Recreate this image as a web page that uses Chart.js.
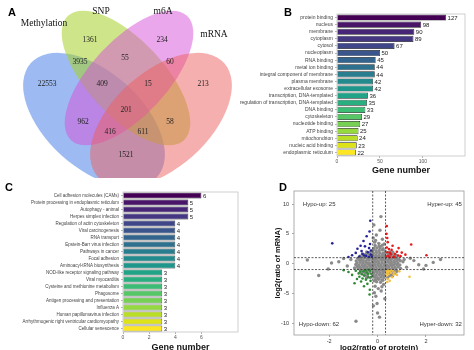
<!DOCTYPE html>
<html>
<head>
<meta charset="utf-8">
<script src="https://cdn.jsdelivr.net/npm/chart.js@4.4.1/dist/chart.umd.min.js"></script>
<style>
  body { margin: 0; width: 474px; height: 350px; overflow: hidden; background: #fff; position: relative; }
  canvas { position: absolute; }
  .tag { position: absolute; font: bold 11px "Liberation Sans", Arial, sans-serif; color: #000; line-height: 1; }
</style>
</head>
<body>
<canvas id="chartA" width="240" height="178" style="left:0;top:0"></canvas>
<canvas id="chartB" width="234" height="178" style="left:240px;top:0"></canvas>
<canvas id="chartC" width="240" height="182" style="left:0;top:175px"></canvas>
<canvas id="chartD" width="234" height="182" style="left:240px;top:175px"></canvas>
<div class="tag" style="left:8px;top:7px">A</div>
<div class="tag" style="left:284px;top:7px">B</div>
<div class="tag" style="left:5px;top:182px">C</div>
<div class="tag" style="left:279px;top:182px">D</div>
<script>
// ---- data ----
// A: venn
const vennSets = ['Methylation', 'SNP', 'm6A', 'mRNA'];
const vennCounts = [22553, 1361, 234, 213, 3935, 55, 60, 409, 15, 201, 962, 58, 416, 611, 1521];

// B: GO terms
const goTerms = ['protein binding', 'nucleus', 'membrane', 'cytoplasm', 'cytosol', 'nucleoplasm', 'RNA binding',
  'metal ion binding', 'integral component of membrane', 'plasma membrane', 'extracellular exosome',
  'transcription, DNA-templated', 'regulation of transcription, DNA-templated', 'DNA binding', 'cytoskeleton',
  'nucleotide binding', 'ATP binding', 'mitochondrion', 'nucleic acid binding', 'endoplasmic reticulum'];
const goCounts = [127, 98, 90, 89, 67, 50, 45, 44, 44, 42, 42, 36, 35, 33, 29, 27, 25, 24, 23, 22];
const goTicks = [0, 50, 100];

// C: KEGG pathways
const keggTerms = ['Cell adhesion molecules (CAMs)', 'Protein processing in endoplasmic reticulum', 'Autophagy - animal',
  'Herpes simplex infection', 'Regulation of actin cytoskeleton', 'Viral carcinogenesis', 'RNA transport',
  'Epstein-Barr virus infection', 'Pathways in cancer', 'Focal adhesion', 'Aminoacyl-tRNA biosynthesis',
  'NOD-like receptor signaling pathway', 'Viral myocarditis', 'Cysteine and methionine metabolism', 'Phagosome',
  'Antigen processing and presentation', 'Influenza A', 'Human papillomavirus infection',
  'Arrhythmogenic right ventricular cardiomyopathy', 'Cellular senescence'];
const keggCounts = [6, 5, 5, 5, 4, 4, 4, 4, 4, 4, 4, 3, 3, 3, 3, 3, 3, 3, 3, 3];
const keggTicks = [0, 2, 4, 6];

// D: log2 ratios [protein, mRNA]
const quadLabels = ['Hypo-up: 25', 'Hyper-up: 45', 'Hypo-down: 62', 'Hyper-down: 32'];
const proteinCut = [-0.2, 0.33];
const mrnaCut = [-1, 1];
const xTicksD = [-2, 0, 2];
const yTicksD = [-10, -5, 0, 5, 10];
const hypoUp = [[-1.87,3.4],[-0.3,7.2],[-0.58,3.8],[-0.66,2.1],[-0.47,1.3],[-0.9,1.8],[-0.35,2.6],[-0.28,1.5],
  [-0.75,1.2],[-0.52,2.9],[-0.4,1.9],[-1.05,1.4],[-0.31,3.3],[-0.62,1.6],[-0.24,1.15],[-0.83,2.5],[-0.45,4.6],
  [-0.36,1.1],[-0.55,1.35],[-0.27,2.2],[-0.7,3.0],[-1.2,1.1],[-0.33,5.4]];
const hyperUp = [[0.38,2.7],[0.52,1.8],[0.87,2.6],[1.39,3.2],[2.02,1.4],[0.38,6.3],[0.37,5.0],[0.66,1.15],
  [0.45,1.3],[0.58,2.3],[0.72,1.6],[0.42,3.6],[0.95,1.25],[0.5,1.05],[0.8,2.0],[0.62,3.0],[0.41,1.9],[1.15,1.5],
  [0.55,1.55],[0.7,1.1],[0.47,2.45],[0.36,1.2],[1.0,1.85],[0.4,4.3],[0.85,1.35]];
const hypoDown = [[-0.78,-1.65],[-0.32,-4.4],[-0.68,-3.0],[-0.54,-2.0],[-0.3,-1.2],[-0.45,-1.5],[-0.9,-1.2],
  [-0.62,-2.5],[-0.38,-2.3],[-1.05,-1.9],[-0.26,-1.7],[-0.5,-1.1],[-0.72,-1.35],[-0.42,-3.4],[-0.85,-2.6],
  [-0.29,-2.9],[-0.58,-1.3],[-0.36,-1.05],[-1.2,-1.4],[-0.65,-1.8],[-0.25,-2.2],[-0.48,-2.7],[-0.95,-3.3],
  [-0.33,-5.2],[-0.56,-3.8],[-0.4,-1.75],[-0.75,-2.2],[-1.4,-1.1]];
const hyperDown = [[0.38,-1.3],[0.45,-1.8],[0.52,-1.2],[0.6,-2.3],[0.42,-2.6],[0.7,-1.5],[0.36,-2.0],[0.55,-1.55],
  [1.32,-2.2],[0.48,-1.1],[0.8,-1.9],[0.4,-3.1],[0.63,-1.15],[0.37,-1.6],[0.9,-1.3],[0.5,-2.9],[0.66,-1.85],[0.44,-1.4]];
const notSig = [
  [-0.82,0.9],[-0.7,0.8],[-0.56,0.88],[-0.43,0.83],[-0.3,0.92],[-0.17,0.78],[-0.04,0.86],[0.09,0.9],[0.22,0.81],
  [0.35,0.87],[0.48,0.79],[0.61,0.91],[0.74,0.84],[0.87,0.8],
  [-0.88,0.45],[-0.75,0.55],[-0.62,0.5],[-0.49,0.42],[-0.36,0.57],[-0.23,0.48],[-0.1,0.53],[0.03,0.44],[0.16,0.56],
  [0.29,0.5],[0.42,0.47],[0.55,0.54],[0.68,0.43],[0.81,0.51],[0.94,0.49],
  [-0.85,0.1],[-0.72,0.2],[-0.59,0.13],[-0.46,0.18],[-0.33,0.08],[-0.2,0.16],[-0.07,0.22],[0.06,0.12],[0.19,0.17],
  [0.32,0.09],[0.45,0.21],[0.58,0.14],[0.71,0.19],[0.84,0.11],
  [-0.9,-0.15],[-0.77,-0.25],[-0.64,-0.18],[-0.51,-0.22],[-0.38,-0.13],[-0.25,-0.27],[-0.12,-0.2],[0.01,-0.16],
  [0.14,-0.24],[0.27,-0.19],[0.4,-0.26],[0.53,-0.14],[0.66,-0.21],[0.79,-0.17],[0.92,-0.23],
  [-0.84,-0.5],[-0.71,-0.6],[-0.58,-0.52],[-0.45,-0.58],[-0.32,-0.49],[-0.19,-0.61],[-0.06,-0.55],[0.07,-0.5],
  [0.2,-0.59],[0.33,-0.53],[0.46,-0.57],[0.59,-0.48],[0.72,-0.6],[0.85,-0.54],
  [-0.8,-0.85],[-0.67,-0.95],[-0.54,-0.88],[-0.41,-0.92],[-0.28,-0.84],[-0.15,-0.96],[-0.02,-0.9],[0.11,-0.86],
  [0.24,-0.94],[0.37,-0.87],[0.5,-0.93],[0.63,-0.85],[0.76,-0.91],
  [-0.1,3.05],[0.06,2.95],[0.2,3.1],
  [-0.16,2.55],[-0.03,2.65],[0.1,2.6],[0.23,2.5],
  [-0.19,2.25],[-0.06,2.15],[0.07,2.2],[0.2,2.28],[0.31,2.12],
  [-0.17,1.75],[-0.04,1.85],[0.09,1.8],[0.22,1.72],[0.33,1.83],
  [-0.2,1.42],[-0.07,1.35],[0.06,1.45],[0.19,1.38],[0.3,1.47],
  [-0.14,1.12],[-0.01,1.2],[0.12,1.08],[0.25,1.16],
  [-0.18,-1.2],[-0.05,-1.28],[0.08,-1.15],[0.21,-1.25],[0.32,-1.18],
  [-0.15,-1.58],[-0.02,-1.5],[0.11,-1.6],[0.24,-1.52],
  [-0.19,-1.88],[-0.06,-1.95],[0.07,-1.85],[0.2,-1.92],[0.31,-1.98],
  [-0.13,-2.28],[0.0,-2.35],[0.13,-2.25],[0.26,-2.32],
  [-0.08,-2.72],[0.05,-2.65],[0.18,-2.76],
  [-0.04,-3.05],[0.12,-3.15],
  // edge of the central cloud, under the coloured points
  [-0.72,1.25],[-0.6,1.18],[-0.48,1.3],[-0.35,1.22],[-0.62,1.6],[-0.5,1.55],[-0.37,1.62],[-0.45,1.95],[-0.3,1.9],
  [0.42,1.22],[0.55,1.3],[0.68,1.2],[0.8,1.28],[0.46,1.58],[0.6,1.65],[0.73,1.52],[0.5,1.95],[0.63,1.9],
  [-0.7,-1.22],[-0.57,-1.3],[-0.44,-1.2],[-0.32,-1.35],[-0.66,-1.6],[-0.52,-1.55],[-0.39,-1.68],[-0.55,-1.95],
  [-0.42,-2.05],[-0.3,-2.35],[-0.46,-2.4],
  [0.42,-1.25],[0.55,-1.35],[0.68,-1.22],[0.8,-1.3],[0.45,-1.62],[0.58,-1.7],[0.72,-1.58],[0.5,-2.0],[0.62,-2.05],
  [0.42,-2.35],
  [-2.43,-2.0],[-2.04,-0.9],[2.0,-0.3],[1.9,-0.9],[-0.89,-9.7],[0.14,7.9],[0.0,-8.3],[-0.07,-5.5],[-2.9,0.6],
  [-1.6,0.3],[-1.25,-0.4],[1.5,0.5],[2.3,0.2],[1.2,-0.6],[-1.1,0.7],[1.05,0.3],[-0.15,6.5],[0.1,5.6],[-0.05,4.8],
  [0.2,4.1],[-0.12,3.6],[0.28,3.3],[0.05,3.4],[-0.18,4.3],[0.25,-3.5],[-0.1,-3.8],[0.15,-4.6],[-0.02,-6.7],
  [0.3,-5.9],[-0.17,-7.1],[0.08,-9.0],[0.22,-2.8],[-0.14,-2.9],[1.35,0.9],[-1.4,0.85],[0.95,-0.8],[-0.95,-0.75],
  [1.7,-0.2],[-1.9,0.1],[1.1,0.7],[2.6,0.7],[0.12,2.9],[-0.08,3.9],[0.18,-3.9],[0.03,-4.2],[-0.13,-4.9]
];

// ---- styles / layout ----
Chart.defaults.font.family = "'Liberation Sans', Arial, sans-serif";
Chart.defaults.color = '#333';
const viridis = ['#440154','#481568','#482677','#453781','#3F4788','#39558C','#32648E','#2D718E','#287D8E','#238A8D',
  '#1F968B','#20A386','#29AF7F','#3CBC75','#56C667','#75D054','#95D840','#BADE28','#DDE318','#FDE725'];
// ellipses in panel pixel units: centre, half axes, rotation (deg, clockwise)
const vennShapes = [
  { cx: 94, cy: 120, a: 85, b: 48, rot: 42, fill: 'rgba(60,120,230,0.5)' },
  { cx: 126, cy: 78, a: 85, b: 38, rot: 47, fill: 'rgba(165,210,40,0.55)' },
  { cx: 129, cy: 78, a: 85, b: 38, rot: -47, fill: 'rgba(215,80,215,0.5)' },
  { cx: 161, cy: 120, a: 85, b: 48, rot: -42, fill: 'rgba(238,95,95,0.5)' }
];
const vennSetPos = [[44, 23], [101, 11], [163, 11], [214, 34]];
const vennCountPos = [[47,84],[90,40],[162,40],[203,84],[80,62],[125,58],[170,62],[102,84],[148,84],[126,110],
  [83,122],[170,122],[110,132],[143,132],[126,155]];

const boxPlugin = color => ({
  id: 'box',
  afterDatasetsDraw(chart) {
    const { ctx, chartArea: a } = chart;
    ctx.save();
    ctx.strokeStyle = color;
    ctx.lineWidth = 0.8;
    ctx.strokeRect(a.left, a.top, a.right - a.left, a.bottom - a.top);
    ctx.restore();
  }
});

const barValues = {
  id: 'barValues',
  afterDatasetsDraw(chart) {
    const { ctx } = chart;
    const meta = chart.getDatasetMeta(0);
    ctx.save();
    ctx.font = "6px 'Liberation Sans', Arial, sans-serif";
    ctx.fillStyle = '#222';
    ctx.textBaseline = 'middle';
    meta.data.forEach((bar, i) => {
      ctx.fillText(String(chart.data.datasets[0].data[i]), bar.x + 1.5, bar.y + 0.5);
    });
    ctx.restore();
  }
};

// ---- A: venn ----
const vennPlugin = {
  id: 'venn',
  beforeDatasetsDraw(chart) {
    const { ctx, scales: { x, y } } = chart;
    vennShapes.forEach(e => {
      ctx.save();
      ctx.fillStyle = e.fill;
      ctx.beginPath();
      ctx.ellipse(x.getPixelForValue(e.cx), y.getPixelForValue(e.cy), e.a, e.b, e.rot * Math.PI / 180, 0, Math.PI * 2);
      ctx.fill();
      ctx.restore();
    });
  },
  afterDatasetsDraw(chart) {
    const { ctx, scales: { x, y } } = chart;
    ctx.save();
    ctx.textAlign = 'center';
    ctx.textBaseline = 'middle';
    ctx.fillStyle = '#222';
    ctx.font = "7.5px 'Liberation Serif', 'Times New Roman', serif";
    chart.getDatasetMeta(0).data.forEach((pt, i) => {
      ctx.fillText(String(vennCounts[i]), pt.x, pt.y);
    });
    ctx.font = "9.5px 'Liberation Serif', 'Times New Roman', serif";
    ctx.fillStyle = '#111';
    vennSets.forEach((s, i) => {
      ctx.fillText(s, x.getPixelForValue(vennSetPos[i][0]), y.getPixelForValue(vennSetPos[i][1]));
    });
    ctx.restore();
  }
};

new Chart(document.getElementById('chartA'), {
  type: 'scatter',
  data: { datasets: [{ data: vennCountPos.map(p => ({ x: p[0], y: p[1] })), pointRadius: 0 }] },
  options: {
    responsive: false, animation: false,
    plugins: { legend: { display: false }, tooltip: { enabled: false } },
    layout: { padding: 0 },
    scales: {
      x: { display: false, min: 0, max: 240 },
      y: { display: false, min: 0, max: 178, reverse: true }
    }
  },
  plugins: [vennPlugin]
});

// ---- B / C: bars ----
function barChart(id, labels, values, tickVals, xmax, opt) {
  return new Chart(document.getElementById(id), {
    type: 'bar',
    data: {
      labels: labels,
      datasets: [{
        data: values, backgroundColor: viridis, borderColor: '#1a1a1a', borderWidth: 0.7,
        barPercentage: 0.86, categoryPercentage: 1
      }]
    },
    options: {
      indexAxis: 'y', responsive: false, animation: false,
      plugins: { legend: { display: false }, tooltip: { enabled: false } },
      layout: { padding: opt.padding },
      scales: {
        x: {
          min: 0, max: xmax,
          afterBuildTicks: s => { s.ticks = tickVals.map(v => ({ value: v })); },
          ticks: { font: { size: 5 }, color: '#555', padding: 1, maxRotation: 0 },
          grid: { display: true, drawOnChartArea: false, tickLength: 2, color: '#666', lineWidth: 0.5 },
          border: { display: false },
          title: { display: true, text: 'Gene number', font: { size: 9, weight: 'bold' }, color: '#111', padding: 0 },
          afterFit: s => { s.height = opt.xh; }
        },
        y: {
          ticks: { font: { size: opt.yfont }, color: '#444', autoSkip: false, padding: 2 },
          grid: { display: true, drawOnChartArea: false, tickLength: 2, color: '#666', lineWidth: 0.5, offset: false },
          border: { display: false },
          afterFit: s => { s.width = opt.yw; }
        }
      }
    },
    plugins: [boxPlugin('#c4c4c4'), barValues]
  });
}

barChart('chartB', goTerms, goCounts, goTicks, 149, { padding: { top: 14, right: 9, bottom: 1.6, left: 0 }, xh: 20.4, yw: 97, yfont: 5 });
barChart('chartC', keggTerms, keggCounts, keggTicks, 8.8, { padding: { top: 17, right: 2, bottom: 3.6, left: 0 }, xh: 21.4, yw: 123, yfont: 4.5 });

// ---- D: scatter ----
const toXY = arr => arr.map(p => ({ x: p[0], y: p[1] }));
const cutLines = {
  id: 'cutLines',
  afterDatasetsDraw(chart) {
    const { ctx, chartArea: a, scales: { x, y } } = chart;
    ctx.save();
    ctx.strokeStyle = '#333';
    ctx.lineWidth = 0.8;
    ctx.setLineDash([2, 1.5]);
    proteinCut.forEach(v => {
      const px = x.getPixelForValue(v);
      ctx.beginPath(); ctx.moveTo(px, a.top); ctx.lineTo(px, a.bottom); ctx.stroke();
    });
    mrnaCut.forEach(v => {
      const py = y.getPixelForValue(v);
      ctx.beginPath(); ctx.moveTo(a.left, py); ctx.lineTo(a.right, py); ctx.stroke();
    });
    ctx.setLineDash([]);
    ctx.font = "6px 'Liberation Sans', Arial, sans-serif";
    ctx.fillStyle = '#333';
    ctx.textBaseline = 'middle';
    const lx = x.getPixelForValue(-3.25), rx = x.getPixelForValue(3.48);
    const ty = y.getPixelForValue(10), by = y.getPixelForValue(-10.2);
    ctx.textAlign = 'left';
    ctx.fillText(quadLabels[0], lx + 4, ty);
    ctx.fillText(quadLabels[2], lx, by);
    ctx.textAlign = 'right';
    ctx.fillText(quadLabels[1], rx, ty);
    ctx.fillText(quadLabels[3], rx, by);
    ctx.restore();
  }
};

const pt = (data, color, r) => ({ data: toXY(data), backgroundColor: color, pointRadius: r, borderWidth: 0 });
new Chart(document.getElementById('chartD'), {
  type: 'scatter',
  data: {
    datasets: [
      pt(hypoUp, '#23239a', 1.3),
      pt(hyperUp, '#e41a1c', 1.3),
      pt(hypoDown, '#2f8a36', 1.3),
      pt(hyperDown, '#f3c040', 1.3),
      pt(notSig, '#8a8a8a', 1.7)
    ]
  },
  options: {
    responsive: false, animation: false,
    plugins: { legend: { display: false }, tooltip: { enabled: false } },
    layout: { padding: { top: 16, right: 10, bottom: 4, left: 33.5 } },
    scales: {
      x: {
        min: -3.45, max: 3.57,
        afterBuildTicks: s => { s.ticks = xTicksD.map(v => ({ value: v })); },
        ticks: { font: { size: 5.5 }, color: '#333', padding: 1 },
        grid: { display: true, drawOnChartArea: false, tickLength: 2, color: '#555', lineWidth: 0.5 },
        border: { display: false },
        title: { display: true, text: 'log2(ratio of protein)', font: { size: 8, weight: 'bold' }, color: '#111', padding: 0 },
        afterFit: s => { s.height = 18; }
      },
      y: {
        min: -12, max: 12.2,
        afterBuildTicks: s => { s.ticks = yTicksD.map(v => ({ value: v })); },
        ticks: { font: { size: 5.5 }, color: '#333', padding: 3 },
        grid: { display: true, drawOnChartArea: false, tickLength: 2, color: '#555', lineWidth: 0.5 },
        border: { display: false },
        title: { display: true, text: 'log2(ratio of mRNA)', font: { size: 7.5, weight: 'bold' }, color: '#111', padding: 0 },
        afterFit: s => { s.width = 20.5; }
      }
    }
  },
  plugins: [boxPlugin('#9a9a9a'), cutLines]
});
</script>
</body>
</html>
